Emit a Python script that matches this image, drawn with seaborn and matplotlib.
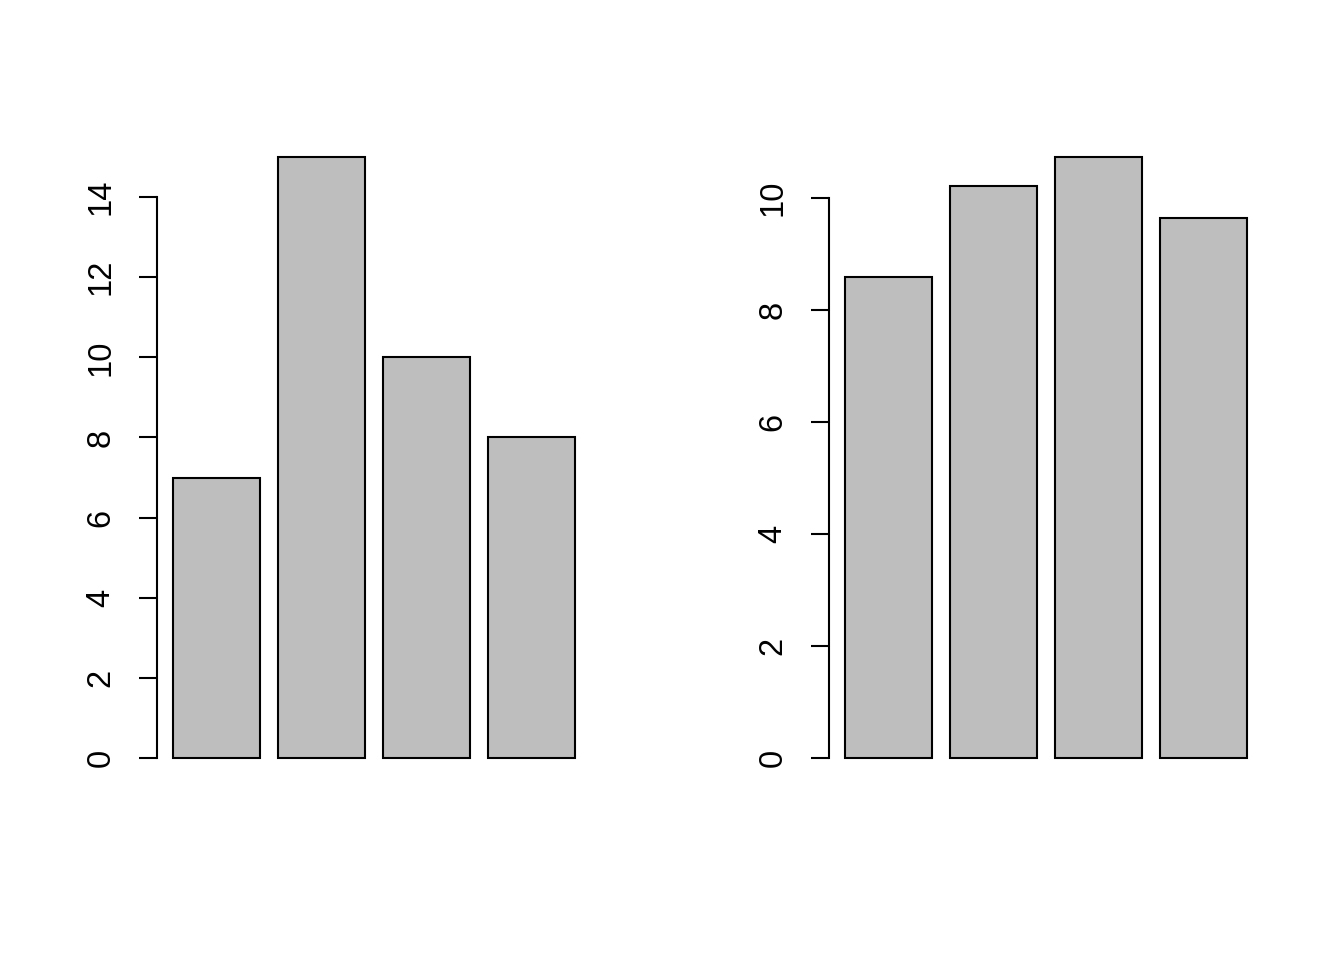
import matplotlib
matplotlib.use("Agg")
from matplotlib import pyplot as plt
import pandas as pd
import seaborn as sns

# data
groups = ["A", "B", "C", "D"]
left_vals = [7, 15, 10, 8]
right_vals = [8.58, 10.21, 10.73, 9.64]
left_ticks = [0, 2, 4, 6, 8, 10, 12, 14]
right_ticks = [0, 2, 4, 6, 8, 10]

sns.set_style("white")
plt.rcParams["font.family"] = ["Liberation Sans", "DejaVu Sans"]

fig = plt.figure(figsize=(13.44, 9.6), dpi=100)
ax1 = fig.add_axes([157 / 1344, (960 - 782) / 960, 434 / 1344, 649 / 960])
ax2 = fig.add_axes([829 / 1344, (960 - 782) / 960, 434 / 1344, 649 / 960])


def draw(ax, vals, ticks):
    df = pd.DataFrame({"g": groups, "v": vals})
    sns.barplot(data=df, x="g", y="v", ax=ax, color="#BEBEBE", saturation=1,
                width=1 / 1.2, edgecolor="black", linewidth=1.5)
    top = max(vals)
    ax.set_ylim(-0.04 * top, top * 1.04)
    ax.set_xlim(-0.4167 - 0.1533, 3.4167 + 0.1533)
    ax.set_yticks(ticks)
    ax.set_yticklabels([str(t) for t in ticks], rotation=90, va="center",
                       fontsize=23.5, color="black")
    ax.tick_params(axis="y", length=13, width=1.5, pad=16, color="black",
                   left=True)
    ax.set_xticks([])
    ax.set_xlabel("")
    ax.set_ylabel("")
    for s in ["top", "right", "bottom"]:
        ax.spines[s].set_visible(False)
    ax.spines["left"].set_color("black")
    ax.spines["left"].set_linewidth(1.5)
    ax.spines["left"].set_bounds(ticks[0], ticks[-1])
    ax.patch.set_alpha(0)


draw(ax1, left_vals, left_ticks)
draw(ax2, right_vals, right_ticks)

fig.savefig("out.png", dpi=100, facecolor="white")
